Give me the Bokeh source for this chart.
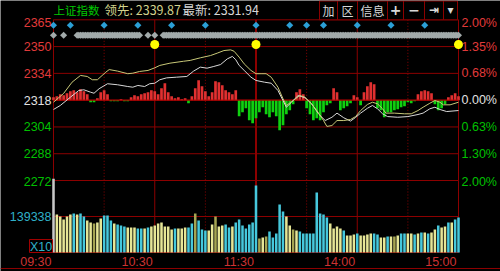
import numpy as np
from bokeh.plotting import figure
from bokeh.models import Range1d
from bokeh.core.properties import value
from bokeh.embed import file_html
from bokeh.resources import INLINE

# ---------------- data ----------------
index_name = "上证指数"
lead_text = "领先: 2339.87"
last_text = "最新: 2331.94"
buttons = ["加", "区", "信息", "+", "−", "⇥", "▾"]

price_ticks = [2365.0, 2349.5, 2334.0, 2318.5, 2303.0, 2287.5, 2272.0]
price_labels = ["2365", "2350", "2334", "2318", "2304", "2288", "2272"]
pct_labels = ["2.00%", "1.35%", "0.68%", "0.00%", "0.63%", "1.30%", "2.00%"]
label_side = ["up", "up", "up", "flat", "down", "down", "down"]
vol_ticks = [0, 139338, 278676]
vol_label = "139338"
vol_unit = "X10"
time_ticks = [0, 60, 120, 180, 240]          # minutes after 09:30 (trading time)
time_labels = ["09:30", "10:30", "11:30", "14:00", "15:00"]
half_hour_ticks = [30, 90, 150, 210]

# latest price (white) and leading index (yellow): minute, price
white_t = [0, 4, 10, 15, 18, 22, 24, 27, 32, 38, 44, 47, 50, 54, 57, 60, 63, 67, 73, 79,
           83, 87, 91, 95, 99, 103, 106, 108, 110, 113, 117, 120, 125, 129, 133, 136, 138, 141, 145, 149,
           153, 157, 161, 165, 168, 172, 176, 179, 182, 186, 189, 192, 195, 198, 204, 210, 216, 219, 223, 226,
           229, 233, 240]
white_p = [2313.1, 2315.4, 2320.2, 2324.1, 2324.5, 2323.1, 2322.5, 2325.1, 2328.0, 2327.4,
           2326.4, 2326.0, 2327.0, 2326.4, 2328.0, 2328.3, 2330.3, 2331.4, 2331.8, 2332.2,
           2335.3, 2337.6, 2337.0, 2338.0, 2339.1, 2342.4, 2343.8, 2341.9, 2338.6, 2335.7,
           2331.8, 2329.9, 2328.9, 2328.3, 2324.1, 2318.3, 2314.4, 2317.3, 2321.2, 2319.9,
           2316.4, 2310.6, 2306.7, 2308.6, 2311.0, 2308.3, 2306.4, 2308.5, 2311.0, 2313.8,
           2315.4, 2313.5, 2310.6, 2309.0, 2308.6, 2309.0, 2310.2, 2311.0, 2313.5, 2314.4,
           2313.1, 2311.9, 2312.5]
yellow_t = [0, 6, 11, 16, 20, 23, 26, 31, 33, 38, 44, 47, 51, 56, 60, 63, 69, 77, 81, 87,
            93, 97, 101, 105, 107, 110, 113, 117, 120, 123, 126, 129, 133, 136, 138, 142, 146, 149, 152, 156,
            160, 162, 165, 168, 172, 176, 179, 182, 186, 189, 192, 195, 197, 202, 208, 212, 216, 219, 223, 226,
            229, 231, 235, 240]
yellow_p = [2317.3, 2322.4, 2328.9, 2332.8, 2332.2, 2330.3, 2330.3, 2334.7, 2336.2, 2335.3,
            2333.8, 2334.1, 2335.1, 2335.7, 2337.2, 2338.6, 2339.9, 2341.0, 2341.5, 2343.0,
            2344.3, 2345.7, 2347.2, 2347.6, 2346.8, 2343.4, 2339.5, 2335.7, 2333.8, 2333.8,
            2333.8, 2331.8, 2326.0, 2319.3, 2315.4, 2318.3, 2321.2, 2320.2, 2317.3, 2312.5,
            2306.7, 2303.3, 2303.8, 2306.7, 2306.7, 2307.3, 2309.0, 2312.5, 2316.0, 2317.3,
            2316.4, 2313.5, 2311.0, 2311.0, 2310.6, 2310.6, 2312.5, 2314.4, 2316.7, 2318.3,
            2317.3, 2315.8, 2315.8, 2317.3]

# bars every 2 minutes
bar_t = list(range(0, 241, 2))
power = [3, 4, 6, 5, 7, 9, 10, 8, 11, 9,
         6, -2, -2, 2, 8, 10, 6, -1, -1, -1,
         1, -1, -1, 3, 5, 4, 6, 7, 8, 10,
         9, 6, 12, 17, 8, 4, 2, 3, 1, 2,
         -3, 4, 12, 20, 14, 9, 4, 8, 19, 18,
         15, 10, 8, 6, 10, -16, -12, -8, -20, -23,
         -18, -12, -7, -14, -17, -12, -16, -30, -25, -14,
         -10, -4, 8, 11, 6, -8, -14, -20, -18, -20,
         -12, -5, -3, 12, 8, -10, -8, -6, -3, 5,
         3, -5, 8, 14, 18, 16, -8, -10, -17, -12,
         -12, -10, -9, -7, -6, -2, -3, -1, 6, 9,
         10, 9, 7, -4, -10, -8, -4, 3, 5, 7,
         4]
volume = [285000, 147100, 139300, 127700, 139300, 147100, 150900, 147100, 150900, 139300,
          123900, 116100, 112200, 116100, 131600, 143200, 143200, 123900, 112200, 108400,
          104500, 100600, 96800, 96800, 96800, 92900, 92900, 92900, 96800, 100600,
          104500, 112200, 116100, 100600, 100600, 89000, 92900, 92900, 92900, 96800,
          96800, 112200, 150900, 123900, 89000, 85200, 85200, 108400, 139300, 100600,
          104500, 108400, 96800, 100600, 116100, 127700, 104500, 92900, 108400, 116100,
          259300, 54200, 58100, 61900, 81300, 58100, 73500, 185800, 158700, 139300,
          104500, 89000, 85200, 81300, 73500, 73500, 73500, 73500, 232200, 150900,
          147100, 135500, 112200, 92900, 100600, 92900, 85200, 65800, 65800, 69700,
          73500, 65800, 65800, 69700, 73500, 73500, 69700, 58100, 58100, 61900,
          61900, 61900, 65800, 73500, 73500, 73500, 73500, 69700, 73500, 77400,
          77400, 73500, 77400, 89000, 104500, 96800, 100600, 116100, 116100, 127700,
          135500]
vol_kind = ("WYYYYYCYCC" "YYOYYCCCYC" "CCYYYCCYCY" "YYYYYYCYYY" "CCOCCCYYOY"
            "YCCYCCCCCC" "COYOCCCCCY" "YOYCCCCCCC" "CCYYYYCYYY" "CYYYYCCYYC"
            "YOYCCYYCYC" "YCYYCYYCYC" "C")

blue_marks = [0, 10, 30, 50, 70, 90, 120, 140, 150, 160, 180, 200, 220]
gray_runs = [(0, 0), (6, 6), (14, 51), (56, 56), (60, 60), (65, 240)]
yellow_dots = [60, 120, 240]

# ---------------- layout / style ----------------
W, H = 500, 271
X0, PXM = 53.0, 1.6875            # pixel of 09:30, pixels per minute
PTOP, PPX = 2376.17, 0.5787       # price at top edge, points per pixel
VZERO_PX, VPX = 252.0, 3870.5     # volume zero pixel row, volume per pixel
PZERO_PX = 99.65                  # zero row of the power histogram


def tx(px):
    return (px - X0) / PXM


def py(px):
    return PTOP - px * PPX


def vy(px):
    return (VZERO_PX - px) * VPX


GRID = "#8c0000"
RED_T = "#e03a3a"
GREEN_T = "#00c000"
WHITE_T = "#e0e0e0"
CYAN_T = "#2fb0c8"
LABEL_FONT = value("Liberation Sans")
CJK_FONT = value("Noto Sans CJK SC")

p = figure(width=W, height=H, x_range=Range1d(tx(0), tx(W)),
           y_range=Range1d(py(H), py(0)), output_backend="svg",
           toolbar_location=None, min_border=0, x_axis_location=None,
           y_axis_location=None, background_fill_color="black",
           border_fill_color="black", outline_line_color=None)
p.grid.visible = False
p.extra_y_ranges = {"vol": Range1d(vy(H), vy(0)),
                    "pow": Range1d(-(H - PZERO_PX), PZERO_PX)}

# grid: horizontal
n = len(price_ticks)
p.segment(x0=[0] * n, x1=[240] * n, y0=price_ticks, y1=price_ticks,
          line_color=GRID, line_width=1)
p.segment(x0=[0, 0], x1=[240, 240], y0=vol_ticks[:2], y1=vol_ticks[:2],
          line_color=GRID, line_width=1, y_range_name="vol")
# grid: vertical
widths = [1, 1, 2, 1, 1]
m = len(time_ticks)
p.segment(x0=time_ticks, x1=time_ticks, y0=[price_ticks[0]] * m, y1=[price_ticks[-1]] * m,
          line_color=GRID, line_width=widths)
p.segment(x0=time_ticks, x1=time_ticks, y0=[0] * m, y1=[vol_ticks[-1]] * m,
          line_color=GRID, line_width=widths, y_range_name="vol")
k = len(half_hour_ticks)
p.segment(x0=half_hour_ticks, x1=half_hour_ticks, y0=[price_ticks[0]] * k,
          y1=[price_ticks[-1]] * k, line_color=GRID, line_dash="1 2")
p.segment(x0=half_hour_ticks, x1=half_hour_ticks, y0=[0] * k, y1=[vol_ticks[-1]] * k,
          line_color=GRID, line_dash="1 2", y_range_name="vol")
# bottom border
p.segment(x0=[tx(0)], x1=[tx(W)], y0=[vy(268)], y1=[vy(268)], line_color=GRID,
          y_range_name="vol")

# power histogram
pcol = ["#e03030" if v > 0 else "#10d010" for v in power]
p.vbar(x=bar_t, top=power, bottom=0, width=1.6, fill_color=pcol, line_color=None,
       y_range_name="pow")
p.segment(x0=[0], x1=[240], y0=[price_ticks[3]], y1=[price_ticks[3]],
          line_color="#b00000", line_width=1)

# price lines
p.line(white_t, white_p, line_color="#d8d8d8", line_width=1)
p.line(yellow_t, yellow_p, line_color="#c8c878", line_width=1)

# volume bars
kind_color = {"W": "#c8c8c8", "Y": "#e6e696", "C": "#46c8dc", "O": "#a4a452"}
vcol = [kind_color[c] for c in vol_kind]
p.vbar(x=bar_t, top=volume, bottom=0, width=1.5, fill_color=vcol, line_color=None,
       y_range_name="vol")

# event markers
gray_marks = [t for a, b in gray_runs for t in range(a, b + 1)]
p.scatter(x=gray_marks, y=[py(34.7)] * len(gray_marks), marker="square",
          angle=np.pi / 4, size=5, fill_color="#a2aaaa", line_color=None)
p.scatter(x=blue_marks, y=[py(24.7)] * len(blue_marks), marker="square",
          angle=np.pi / 4, size=5, fill_color="#2b9fd6", line_color=None)
p.scatter(x=yellow_dots, y=[py(44)] * len(yellow_dots), marker="circle", size=9,
          fill_color="#ffff00", line_color=None)

# axis labels (left / right)
side_col = {"up": RED_T, "flat": WHITE_T, "down": GREEN_T}
lcol = [side_col[s] for s in label_side]
yoff = [3, 0, 0, 0, 0, 0, 1]
p.text(x=[0] * n, y=price_ticks, text=price_labels, x_offset=-2, y_offset=yoff,
       text_align="right", text_baseline="middle", text_color=lcol,
       text_font=LABEL_FONT, text_font_size="12.5px")
p.text(x=[240] * n, y=price_ticks, text=pct_labels, x_offset=3, y_offset=yoff,
       text_align="left", text_baseline="middle", text_color=lcol,
       text_font=LABEL_FONT, text_font_size="12.5px")
p.text(x=[0], y=[vol_ticks[1]], text=[vol_label], x_offset=-2, text_align="right",
       text_baseline="middle", text_color=CYAN_T, text_font=LABEL_FONT,
       text_font_size="12.5px", y_range_name="vol")
p.quad(left=[tx(29)], right=[tx(52)], top=[vy(239)], bottom=[vy(252)],
       fill_color=None, line_color="#a00000", y_range_name="vol")
p.text(x=[tx(40.5)], y=[vy(246)], text=[vol_unit], text_align="center",
       text_baseline="middle", text_color=CYAN_T, text_font=LABEL_FONT,
       text_font_size="12.5px", y_range_name="vol")
p.text(x=time_ticks, y=[vy(261)] * m, text=time_labels, x_offset=-2,
       text_align="right", text_baseline="middle", text_color="#cc3333",
       text_font=LABEL_FONT, text_font_size="12.5px", y_range_name="vol")

# header
p.text(x=[tx(53)], y=[py(9)], text=[index_name], text_align="left",
       text_baseline="middle", text_color="#00c800", text_font=CJK_FONT,
       text_font_size="11.5px")
p.text(x=[tx(104)], y=[py(9)], text=[lead_text], text_align="left",
       text_baseline="middle", text_color="#d2d28c", text_font=CJK_FONT,
       text_font_size="12.5px")
p.text(x=[tx(182)], y=[py(9)], text=[last_text], text_align="left",
       text_baseline="middle", text_color="#d6d6d6", text_font=CJK_FONT,
       text_font_size="12.5px")

# buttons
edges = [319, 337, 357, 387, 403, 424, 443, 457]
lefts = [tx(e) for e in edges[:-1]]
rights = [tx(e) for e in edges[1:]]
p.quad(left=lefts, right=rights, top=[py(0.5)] * 7, bottom=[py(19.3)] * 7,
       fill_color="#000000", line_color="#8c0000")
mids = [(a + b) / 2 for a, b in zip(lefts, rights)]
bfont = ["Noto Sans CJK SC"] * 3 + ["DejaVu Sans"] * 4
for xm, t, f in zip(mids, buttons, bfont):
    p.text(x=[xm], y=[py(9.5)], text=[t], text_align="center", text_baseline="middle",
           text_color="#d8d8d8", text_font=value(f),
           text_font_size="14px" if t in "+−" else "12px",
           text_font_style="bold" if t in "+−⇥" else "normal")

open("out.html", "w").write(file_html(p, INLINE))
